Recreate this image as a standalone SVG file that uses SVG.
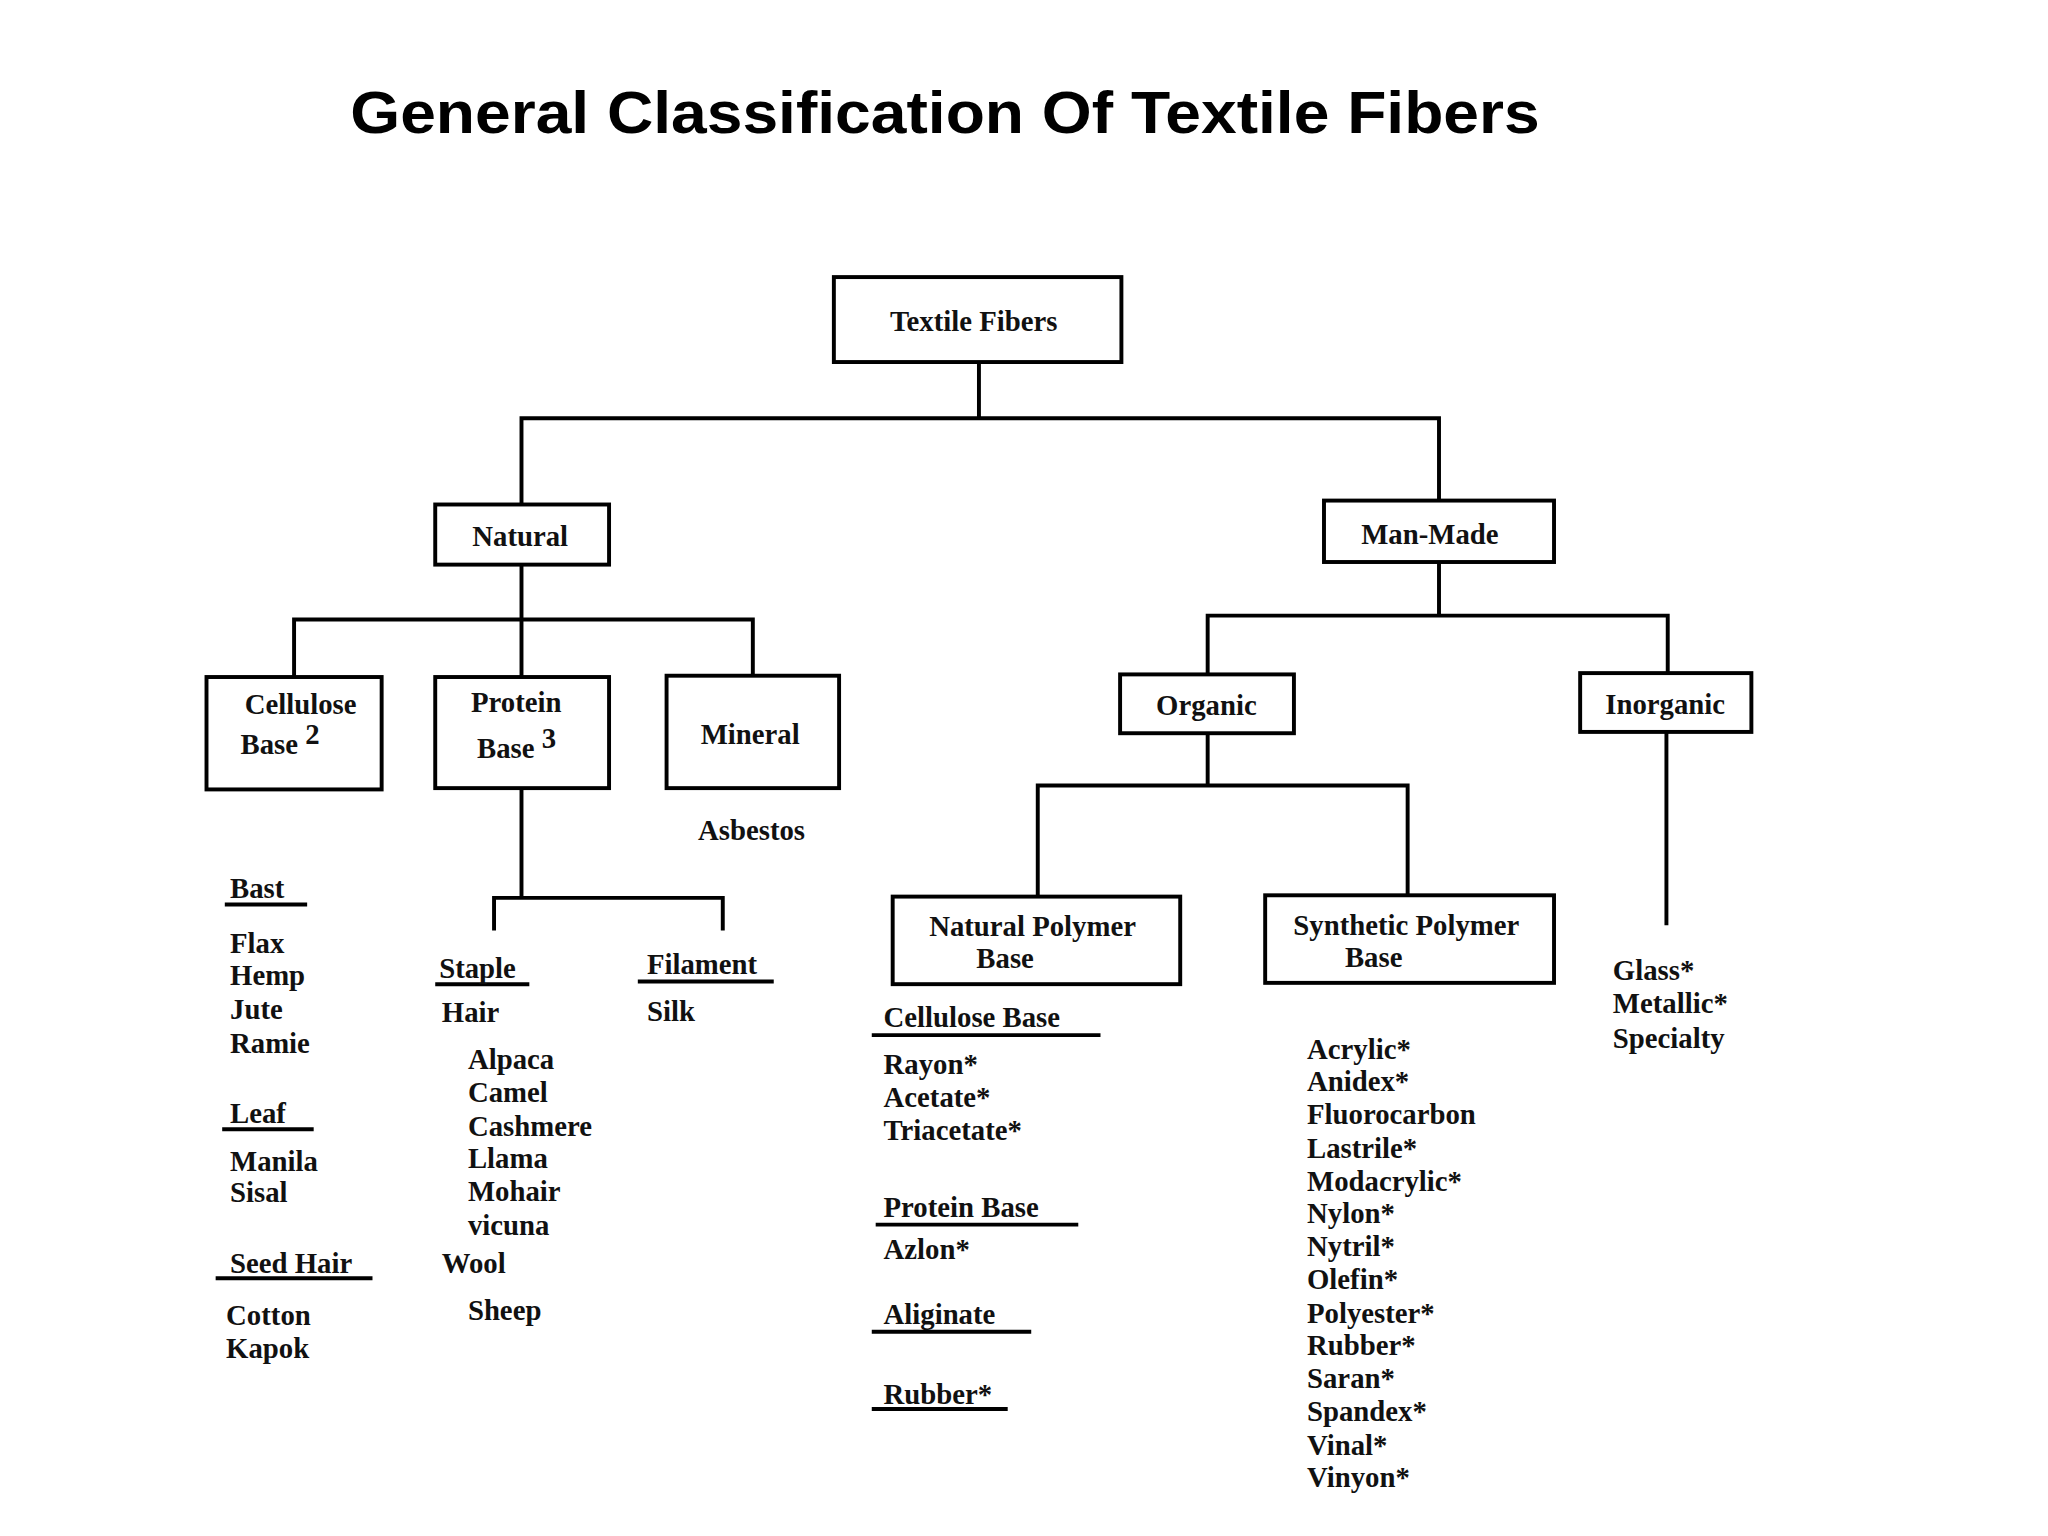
<svg xmlns="http://www.w3.org/2000/svg" width="2048" height="1536" viewBox="0 0 2048 1536">
<style>
.b{fill:#fff;stroke:#000;stroke-width:3}
.c{fill:none;stroke:#000;stroke-width:3}
text{font-family:"Liberation Serif","Times New Roman",serif;font-weight:bold;font-size:22px;fill:#111}
.m{text-anchor:middle}
.t{font-family:"Liberation Sans",Arial,sans-serif;font-size:46px;fill:#000}
</style>
<rect width="2048" height="1536" fill="#fff"/>
<g transform="scale(1.307)">
<text class="t" x="268" y="102" textLength="910" lengthAdjust="spacingAndGlyphs">General Classification Of Textile Fibers</text>
<g id="connectors">
<path class="c" d="M749 277V320M399 386V320H1101V383"/>
<path class="c" d="M399 432V474M225 518V474H576V517M399 474V518"/>
<path class="c" d="M399 603V687M378 712V687H553V712"/>
<path class="c" d="M1101 430V471M924 516V471H1276V515"/>
<path class="c" d="M924 561V601M794 686V601H1077V685"/>
<path class="c" d="M1275 560V708"/>
<path class="c" d="M333 753H405M488 751H592M172 692H235M170 864H240M165 978H285M667 792H842M670 937H825M667 1019H789M667 1078H771"/>
</g>
<g id="textile"><rect class="b" x="638" y="212" width="220" height="65"/><text class="m" x="745" y="253">Textile Fibers</text></g>
<g id="natural"><rect class="b" x="333" y="386" width="133" height="46"/><text class="m" x="398" y="418">Natural</text></g>
<g id="manmade"><rect class="b" x="1013" y="383" width="176" height="47"/><text class="m" x="1094" y="416">Man-Made</text></g>
<g id="cellulose"><rect class="b" x="158" y="518" width="134" height="86"/><text class="m" x="230" y="546">Cellulose</text><text x="184" y="577">Base <tspan dy="-8">2</tspan></text></g>
<g id="protein"><rect class="b" x="333" y="518" width="133" height="85"/><text class="m" x="395" y="545">Protein</text><text x="365" y="580">Base <tspan dy="-8">3</tspan></text></g>
<g id="mineral"><rect class="b" x="510" y="517" width="132" height="86"/><text class="m" x="574" y="569">Mineral</text><text class="m" x="575" y="643">Asbestos</text></g>
<g id="organic"><rect class="b" x="857" y="516" width="133" height="45"/><text class="m" x="923" y="547">Organic</text></g>
<g id="inorganic"><rect class="b" x="1209" y="515" width="131" height="45"/><text class="m" x="1274" y="546">Inorganic</text></g>
<g id="natpoly"><rect class="b" x="683" y="686" width="220" height="67"/><text class="m" x="790" y="716">Natural Polymer</text><text class="m" x="769" y="741">Base</text></g>
<g id="synpoly"><rect class="b" x="968" y="685" width="221" height="67"/><text class="m" x="1076" y="715">Synthetic Polymer</text><text class="m" x="1051" y="740">Base</text></g>
<g id="lists">
<text x="176" y="687">Bast</text><text x="176" y="729">Flax</text><text x="176" y="754">Hemp</text><text x="176" y="780">Jute</text><text x="176" y="806">Ramie</text>
<text x="176" y="859">Leaf</text><text x="176" y="896">Manila</text><text x="176" y="920">Sisal</text>
<text x="176" y="974">Seed Hair</text><text x="173" y="1014">Cotton</text><text x="173" y="1039">Kapok</text>
<text x="336" y="748">Staple</text><text x="338" y="782">Hair</text>
<text x="358" y="818">Alpaca</text><text x="358" y="843">Camel</text><text x="358" y="869">Cashmere</text><text x="358" y="894">Llama</text><text x="358" y="919">Mohair</text><text x="358" y="945">vicuna</text>
<text x="338" y="974">Wool</text><text x="358" y="1010">Sheep</text>
<text x="495" y="745">Filament</text><text x="495" y="781">Silk</text>
<text x="676" y="786">Cellulose Base</text><text x="676" y="822">Rayon*</text><text x="676" y="847">Acetate*</text><text x="676" y="872">Triacetate*</text>
<text x="676" y="931">Protein Base</text><text x="676" y="963">Azlon*</text>
<text x="676" y="1013">Aliginate</text><text x="676" y="1074">Rubber*</text>
<text x="1234" y="750">Glass*</text><text x="1234" y="775">Metallic*</text><text x="1234" y="802">Specialty</text>
<text x="1000" y="810">Acrylic*</text><text x="1000" y="835">Anidex*</text><text x="1000" y="860">Fluorocarbon</text><text x="1000" y="886">Lastrile*</text><text x="1000" y="911">Modacrylic*</text><text x="1000" y="936">Nylon*</text><text x="1000" y="961">Nytril*</text><text x="1000" y="986">Olefin*</text><text x="1000" y="1012">Polyester*</text><text x="1000" y="1037">Rubber*</text><text x="1000" y="1062">Saran*</text><text x="1000" y="1087">Spandex*</text><text x="1000" y="1113">Vinal*</text><text x="1000" y="1138">Vinyon*</text>
</g>
</g>
</svg>
